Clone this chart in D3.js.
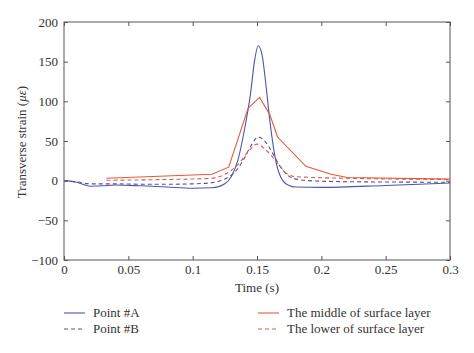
<!DOCTYPE html>
<html>
<head>
<meta charset="utf-8">
<script src="https://cdn.jsdelivr.net/npm/d3@7"></script>
<style>
body { margin: 0; background: #fff; }
text { font-family: "Liberation Serif", "DejaVu Serif", serif; fill: #333; }
</style>
</head>
<body>
<div id="chart"></div>
<script>
// values
var pointA_t = [0, 0.01, 0.02, 0.03, 0.04, 0.06, 0.08, 0.1, 0.115, 0.125, 0.13, 0.135, 0.14, 0.145, 0.148, 0.151, 0.154, 0.157, 0.16, 0.165, 0.17, 0.175, 0.18, 0.2, 0.25, 0.3];
var pointA_v = [0, -2, -7, -6.5, -5.5, -6.5, -8, -9.5, -9, -4, 5, 25, 62, 110, 150, 170, 158, 120, 75, 22, 0, -6, -8, -8.5, -6, -3];

var pointB_t = [0, 0.01, 0.02, 0.04, 0.06, 0.08, 0.1, 0.115, 0.125, 0.13, 0.135, 0.14, 0.145, 0.151, 0.157, 0.162, 0.168, 0.173, 0.178, 0.19, 0.22, 0.3];
var pointB_v = [0, -1.5, -4, -4, -4.5, -4.5, -4, -2.5, 2, 7, 15, 28, 43, 55, 48, 35, 18, 8, 3, 0, -1.3, -2];

var middle_t = [0.033, 0.115, 0.128, 0.143, 0.152, 0.16, 0.166, 0.188, 0.207, 0.22, 0.3];
var middle_v = [3, 8, 17, 91, 105, 83, 55, 18, 8.5, 4, 2];

var lower_t = [0.033, 0.08, 0.115, 0.125, 0.135, 0.143, 0.15, 0.156, 0.162, 0.166, 0.173, 0.18, 0.22, 0.3];
var lower_v = [0.5, 1.5, 3, 8, 20, 36, 46, 40, 30, 22, 9, 5, 3, 1.5];

var xTicks = [0, 0.05, 0.1, 0.15, 0.2, 0.25, 0.3];
var yTicks = [-100, -50, 0, 50, 100, 150, 200];

var blue = '#4f55a6', red = '#e25a3c';

var $svg = d3.select('#chart').append('svg')
    .attr('width', 474).attr('height', 353);

var x = d3.scaleLinear().domain([0, 0.3]).range([64, 450]);
var y = d3.scaleLinear().domain([-100, 200]).range([260, 22]);

// frame
$svg.append('rect')
    .attr('x', 64).attr('y', 22)
    .attr('width', 386).attr('height', 238)
    .attr('fill', 'none').attr('stroke', '#555').attr('stroke-width', 1);

function fmt(d) { return d3.format('~g')(d); }

$svg.append('g').attr('transform', 'translate(0,260)')
    .call(d3.axisBottom(x).tickValues(xTicks).tickSize(-4).tickPadding(5).tickFormat(fmt))
    .call(function(g) { g.select('.domain').remove(); });
$svg.append('g').attr('transform', 'translate(0,22)')
    .call(d3.axisTop(x).tickValues(xTicks).tickSize(-4).tickFormat(''))
    .call(function(g) { g.select('.domain').remove(); });
$svg.append('g').attr('transform', 'translate(64,0)')
    .call(d3.axisLeft(y).tickValues(yTicks).tickSize(-4).tickPadding(6).tickFormat(function(d) { return d < 0 ? '\u2212' + (-d) : d; }))
    .call(function(g) { g.select('.domain').remove(); });
$svg.append('g').attr('transform', 'translate(450,0)')
    .call(d3.axisRight(y).tickValues(yTicks).tickSize(-4).tickFormat(''))
    .call(function(g) { g.select('.domain').remove(); });

$svg.selectAll('.tick line').attr('stroke', '#555');
$svg.selectAll('.tick text')
    .style('font-family', '"Liberation Serif", serif')
    .style('font-size', '13px').attr('fill', '#333');

$svg.append('text').attr('x', 257).attr('y', 292)
    .attr('text-anchor', 'middle').style('font-size', '13px')
    .text('Time (s)');

$svg.append('text')
    .attr('transform', 'translate(26,142) rotate(-90)')
    .attr('text-anchor', 'middle').style('font-size', '13px')
    .html('Transverse strain (<tspan font-style="italic">\u03bc\u03b5</tspan>)');

var series = [
    {name: 'Point #A', t: pointA_t, v: pointA_v, color: blue, dash: null, curve: d3.curveMonotoneX},
    {name: 'Point #B', t: pointB_t, v: pointB_v, color: blue, dash: '4,3', curve: d3.curveMonotoneX},
    {name: 'The middle of surface layer', t: middle_t, v: middle_v, color: red, dash: null, curve: d3.curveLinear},
    {name: 'The lower of surface layer', t: lower_t, v: lower_v, color: red, dash: '4,3', curve: d3.curveMonotoneX}
];

series.forEach(function(s) {
    var pts = s.t.map(function(t, i) { return [t, s.v[i]]; });
    $svg.append('path')
        .datum(pts)
        .attr('fill', 'none')
        .attr('stroke', s.color)
        .attr('stroke-width', 1.1)
        .attr('stroke-dasharray', s.dash)
        .attr('d', d3.line().curve(s.curve)
            .x(function(d) { return x(d[0]); })
            .y(function(d) { return y(d[1]); }));
});

// legend
var legPos = [[64, 313], [64, 329], [258, 313], [258, 329]];
series.forEach(function(s, i) {
    var p = legPos[i];
    $svg.append('line')
        .attr('x1', p[0]).attr('x2', p[0] + 21)
        .attr('y1', p[1]).attr('y2', p[1])
        .attr('stroke', s.color).attr('stroke-width', 1.1)
        .attr('stroke-dasharray', s.dash);
    $svg.append('text')
        .attr('x', p[0] + 29).attr('y', p[1] + 4)
        .style('font-size', '13px')
        .text(s.name);
});
</script>
</body>
</html>
